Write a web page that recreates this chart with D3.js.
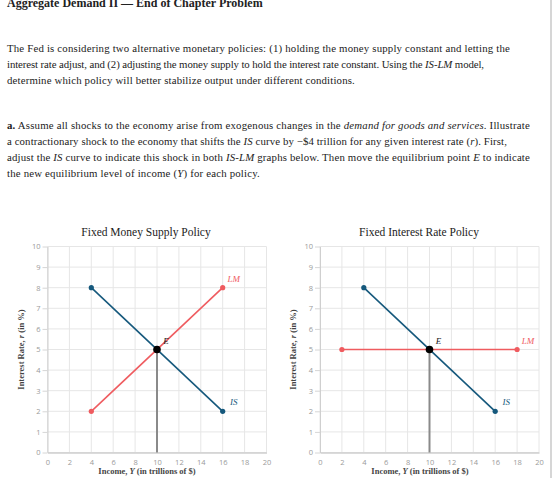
<!DOCTYPE html>
<html>
<head>
<meta charset="utf-8">
<script src="https://cdn.jsdelivr.net/npm/d3@7"></script>
<style>
  body { margin: 0; background: #fff; }
  svg { display: block; }
  .axis .tick text { font-family: "Open Sans", sans-serif; font-size: 7.5px; fill: #9a9a9a; }
  .axis .domain { stroke: #cfcfcf; }
  .axis .tick line { stroke: #d6d6d6; }
</style>
</head>
<body>
<svg id="chart" width="552" height="504"></svg>
<script>
// ---- data ----
const xTicks = [0, 2, 4, 6, 8, 10, 12, 14, 16, 18, 20];
const yTicks = [0, 1, 2, 3, 4, 5, 6, 7, 8, 9, 10];
const isCurve = [{x: 4, y: 8}, {x: 16, y: 2}];
const lmFixedMoney = [{x: 4, y: 2}, {x: 16, y: 8}];
const lmFixedRate = [{x: 2, y: 5}, {x: 18, y: 5}];
const eqPoint = {x: 10, y: 5};
const panelTitles = ["Fixed Money Supply Policy", "Fixed Interest Rate Policy"];

const heading = "Aggregate Demand II \u2014 End of Chapter Problem";
// each line: list of [text, style]  (n = normal, i = italic, b = bold)
const paragraph1 = [
  [["The Fed is considering two alternative monetary policies: (1) holding the money supply constant and letting the", "n"]],
  [["interest rate adjust, and (2) adjusting the money supply to hold the interest rate constant. Using the ", "n"], ["IS-LM", "i"], [" model,", "n"]],
  [["determine which policy will better stabilize output under different conditions.", "n"]]
];
const paragraph2 = [
  [["a.", "b"], [" Assume all shocks to the economy arise from exogenous changes in the ", "n"], ["demand for goods and services", "i"], [". Illustrate", "n"]],
  [["a contractionary shock to the economy that shifts the ", "n"], ["IS", "i"], [" curve by \u2212$4 trillion for any given interest rate (", "n"], ["r", "i"], ["). First,", "n"]],
  [["adjust the ", "n"], ["IS", "i"], [" curve to indicate this shock in both ", "n"], ["IS-LM", "i"], [" graphs below. Then move the equilibrium point ", "n"], ["E", "i"], [" to indicate", "n"]],
  [["the new equilibrium level of income (", "n"], ["Y", "i"], [") for each policy.", "n"]]
];

const isColor = "#15587c";
const lmColor = "#ef5b5f";
const serif = "'Liberation Serif', 'Times New Roman', serif";

// rendered widths of the text lines (the original face is wider than Liberation Serif)
const para1Widths = [503, 477, 348];
const para2Widths = [523, 500, 523, 253];

const svg = d3.select("#chart");

// ---- text block ----
svg.append("text")
    .attr("x", 7).attr("y", 7)
    .attr("font-family", serif).attr("font-size", 12).attr("font-weight", "bold")
    .attr("fill", "#222")
    .text(heading);

function writeLines(lines, widths, startY) {
    lines.forEach(function (line, i) {
        let t = svg.append("text")
            .attr("x", 7).attr("y", startY + i * 16)
            .attr("font-family", serif).attr("font-size", 10.8)
            .attr("fill", "#222");
        let chars = 0;
        line.forEach(function (seg) {
            chars += seg[0].length;
            t.append("tspan")
                .attr("font-style", seg[1] === "i" ? "italic" : "normal")
                .attr("font-weight", seg[1] === "b" ? "bold" : "normal")
                .text(seg[0]);
        });
        // spread letters so each line ends where the original does
        let natural = t.node().getComputedTextLength();
        t.attr("letter-spacing", ((widths[i] - natural) / chars).toFixed(3) + "px");
    });
}
writeLines(paragraph1, para1Widths, 52);
writeLines(paragraph2, para2Widths, 129);

// right edge border
svg.append("line")
    .attr("x1", 551).attr("x2", 551).attr("y1", 0).attr("y2", 478)
    .attr("stroke", "#c8c8c8").attr("stroke-width", 1.5);

// ---- panels ----
function drawPanel(left, title, lmData, titleX, yTitleX) {
    let top = 246.5, width = 219, height = 206;
    let x = d3.scaleLinear().domain([0, 20]).range([0, width]);
    let y = d3.scaleLinear().domain([0, 10]).range([height, 0]);

    let g = svg.append("g").attr("transform", "translate(" + left + "," + top + ")");

    // grid
    g.append("g").selectAll("line").data(xTicks).enter().append("line")
        .attr("x1", d => x(d)).attr("x2", d => x(d))
        .attr("y1", 0).attr("y2", height)
        .attr("stroke", "#e6e6e6");
    g.append("g").selectAll("line").data(yTicks).enter().append("line")
        .attr("x1", 0).attr("x2", width)
        .attr("y1", d => y(d)).attr("y2", d => y(d))
        .attr("stroke", "#e6e6e6");

    // axes
    g.append("g").attr("class", "axis")
        .call(d3.axisLeft(y).tickValues(yTicks).tickSize(5).tickPadding(2).tickSizeOuter(0));
    g.append("g").attr("class", "axis")
        .attr("transform", "translate(0," + height + ")")
        .call(d3.axisBottom(x).tickValues(xTicks).tickSize(0).tickPadding(7))
        .select(".domain").attr("stroke-width", 1.5);

    // titles
    svg.append("text")
        .attr("x", titleX).attr("y", 236)
        .attr("text-anchor", "middle")
        .attr("font-family", serif).attr("font-size", 11.5).attr("fill", "#222")
        .text(title);

    let xt = svg.append("text")
        .attr("x", titleX + 1).attr("y", 474)
        .attr("text-anchor", "middle")
        .attr("font-family", serif).attr("font-size", 8.5).attr("font-weight", "bold")
        .attr("fill", "#444");
    xt.append("tspan").text("Income, ");
    xt.append("tspan").attr("font-style", "italic").text("Y");
    xt.append("tspan").text(" (in trillions of $)");

    let yt = svg.append("text")
        .attr("transform", "translate(" + yTitleX + "," + (top + height / 2) + ") rotate(-90)")
        .attr("text-anchor", "middle")
        .attr("font-family", serif).attr("font-size", 8.5).attr("font-weight", "bold")
        .attr("fill", "#444");
    yt.append("tspan").text("Interest Rate, ");
    yt.append("tspan").attr("font-style", "italic").text("r");
    yt.append("tspan").text(" (in %)");

    let line = d3.line().x(d => x(d.x)).y(d => y(d.y));

    // drop line from equilibrium
    g.append("line")
        .attr("x1", x(eqPoint.x)).attr("x2", x(eqPoint.x))
        .attr("y1", y(eqPoint.y)).attr("y2", y(0))
        .attr("stroke", "#8a8a8a").attr("stroke-width", 2);

    // curves
    [[lmData, lmColor, "LM"], [isCurve, isColor, "IS"]].forEach(function (c) {
        g.append("path").datum(c[0])
            .attr("d", line)
            .attr("fill", "none")
            .attr("stroke", c[1]).attr("stroke-width", 1.6);
        g.selectAll(null).data(c[0]).enter().append("circle")
            .attr("cx", d => x(d.x)).attr("cy", d => y(d.y))
            .attr("r", 2.6).attr("fill", c[1]);
        let end = c[0][c[0].length - 1];
        g.append("text")
            .attr("x", x(end.x) + 11).attr("y", y(end.y) - 6)
            .attr("text-anchor", "middle")
            .attr("font-family", serif).attr("font-size", 9)
            .attr("font-style", "italic")
            .attr("fill", c[1])
            .text(c[2]);
    });

    // equilibrium point
    g.append("circle")
        .attr("cx", x(eqPoint.x)).attr("cy", y(eqPoint.y))
        .attr("r", 3.8).attr("fill", "#000");
    g.append("text")
        .attr("x", x(eqPoint.x) + 9).attr("y", y(eqPoint.y) - 6)
        .attr("text-anchor", "middle")
        .attr("font-family", serif).attr("font-size", 9)
        .attr("font-style", "italic")
        .attr("fill", "#222")
        .text("E");
}

drawPanel(47.5, panelTitles[0], lmFixedMoney, 146, 24);
drawPanel(320, panelTitles[1], lmFixedRate, 419, 296);
</script>
</body>
</html>
